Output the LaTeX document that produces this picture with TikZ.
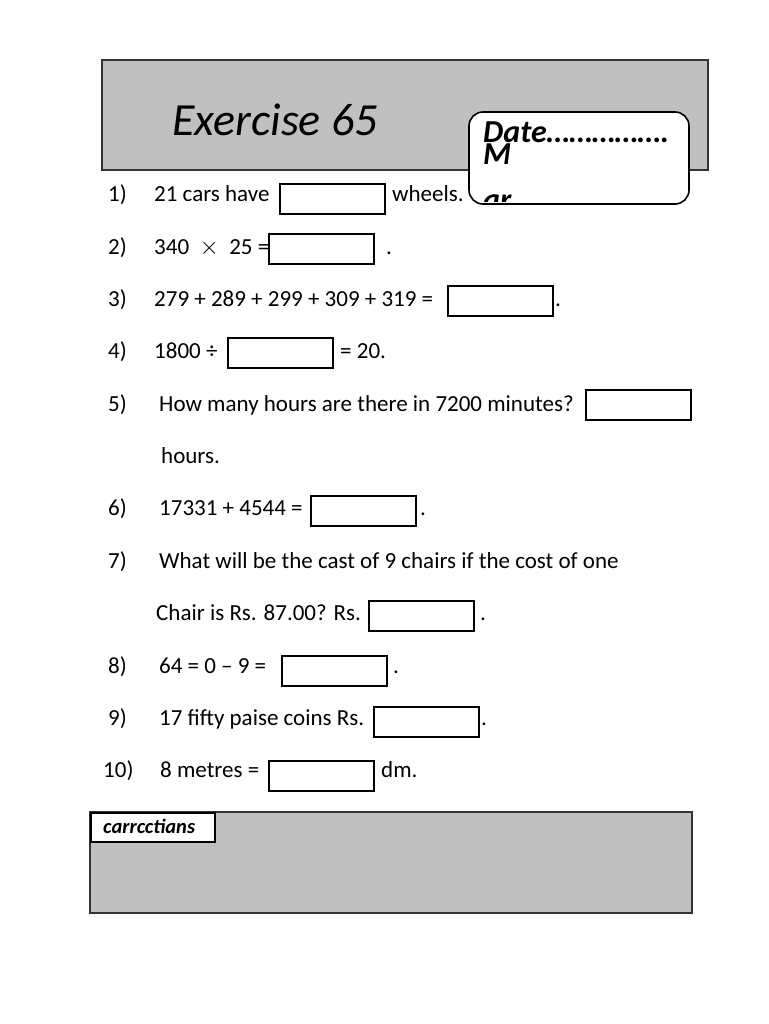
\documentclass[tikz,border=0pt]{standalone}
\usepackage{fontspec}
\setmainfont{Carlito}
\begin{document}
\begin{tikzpicture}[x=1pt,y=-1pt,
  ans/.style={draw,line width=1.6pt,minimum width=105pt,minimum height=30pt,inner sep=0pt},
  t/.style={anchor=base west,font=\fontsize{23}{23}\selectfont,inner sep=0pt}]
\useasboundingbox (0,0) rectangle (768,1024);
\definecolor{gr}{HTML}{C0C0C0}
\draw[fill=gr,line width=1.5pt,draw=black!80] (102,60) rectangle (708,170);
\node[anchor=base west,font=\fontsize{46}{46}\selectfont\itshape,inner sep=0pt] (title) at (172,136) {Exercise 65};
\draw[fill=white,line width=1.6pt,rounded corners=14pt] (469,112) rectangle (689,204);
\begin{scope}
\clip (471,114) rectangle (687,202);
\node[anchor=base west,font=\fontsize{32}{32}\selectfont\bfseries\itshape,inner sep=0pt] (date) at (483,143) {Date…………….};
\node[anchor=base west,font=\fontsize{32}{32}\selectfont\bfseries\itshape,inner sep=0pt] (m) at (483,165) {M};
\node[anchor=base west,font=\fontsize{32}{32}\selectfont\bfseries\itshape,inner sep=0pt] (ar) at (483,211) {ar};
\end{scope}
% numbers
\foreach \n/\x/\y in {1/108/202,2/108/254,3/108/306,4/108/358,5/108/411,6/108/515,7/108/568,8/108/673,9/108/725,10/103/777}
  \node[t] (n\n) at (\x,\y) {\n)};
% questions
\node[t] (q1) at (154,202) {21 cars have};
\node[ans,anchor=north west] (b1) at (279,183) {};
\node[t] (w1) at (392,202) {wheels.};
\node[t] (q2) at (154,254) {340 \ $\times$ \ 25 =};
\node[ans,anchor=north west] (b2) at (268,233) {};
\node[t] at (386,254) {.};
\node[t] (q3) at (154,306) {279 + 289 + 299 + 309 + 319 =};
\node[ans,anchor=north west] (b3) at (447,285) {};
\node[t] at (555,306) {.};
\node[t] (q4) at (154,358) {1800 ÷};
\node[ans,anchor=north west] (b4) at (227,337) {};
\node[t] at (340,358) {= 20.};
\node[t] (q5) at (159,411) {How many hours are there in 7200 minutes?};
\node[ans,anchor=north west] (b5) at (585,389) {};
\node[t] at (161,463) {hours.};
\node[t] (q6) at (159,515) {17331 + 4544 =};
\node[ans,anchor=north west] (b6) at (310,495) {};
\node[t] at (420,515) {.};
\node[t] (q7) at (159,568) {What will be the cast of 9 chairs if the cost of one};
\node[t] at (156,620) {Chair is Rs. 87.00? Rs.};
\node[ans,anchor=north west] (b7) at (368,600) {};
\node[t] at (480,620) {.};
\node[t] (q8) at (159,673) {64 = 0 – 9 =};
\node[ans,anchor=north west] (b8) at (281,655) {};
\node[t] at (393,673) {.};
\node[t] (q9) at (159,725) {17 fifty paise coins Rs.};
\node[ans,anchor=north west] (b9) at (373,706) {};
\node[t] at (481,725) {.};
\node[t] (q10) at (160,777) {8 metres =};
\node[ans,anchor=north west] (b10) at (268,760) {};
\node[t] at (381,777) {dm.};
% corrections
\draw[fill=gr,line width=1.5pt,draw=black!80] (90,812) rectangle (692,913);
\node[draw,fill=white,line width=1.5pt,anchor=north west,minimum width=124pt,minimum height=29pt,inner sep=0pt] (cb) at (90,812) {};
\node[anchor=base west,font=\fontsize{20.5}{20.5}\selectfont\bfseries\itshape,inner sep=0pt] (corr) at (103,833) {carrcctians};
\end{tikzpicture}
\end{document}
